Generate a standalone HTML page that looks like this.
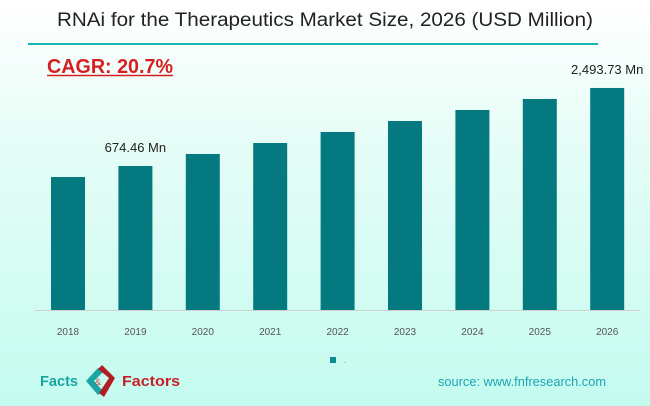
<!DOCTYPE html>
<html><head><meta charset="utf-8"><style>
html,body{margin:0;padding:0}
body{width:650px;height:406px;overflow:hidden;background:linear-gradient(to bottom,#ffffff 0%,#e6fdf7 35%,#c4fbef 100%);font-family:"Liberation Sans",sans-serif;position:relative}
</style></head><body>
<svg width="650" height="406" style="position:absolute;left:0;top:0">
<text x="325" y="26" text-anchor="middle" font-size="19" fill="#222" textLength="536" lengthAdjust="spacingAndGlyphs">RNAi for the Therapeutics Market Size, 2026 (USD Million)</text>
<line x1="28" y1="44" x2="598" y2="44" stroke="#1bb5b5" stroke-width="2"/>
<text x="47" y="73" font-size="20" font-weight="bold" fill="#d62020" textLength="126" lengthAdjust="spacingAndGlyphs">CAGR: 20.7%</text>
<line x1="47" y1="75.5" x2="173" y2="75.5" stroke="#d62020" stroke-width="1.5"/>
<g id="bars"></g>
<line x1="35" y1="310.5" x2="640" y2="310.5" stroke="#cfcfcf" stroke-width="1"/>
<rect x="330" y="357" width="6" height="6" fill="#138a8f"/>
<text x="344" y="363" font-size="6" fill="#555">.</text>
<text x="40" y="386" font-size="15" font-weight="bold" fill="#1aa5a5" textLength="38" lengthAdjust="spacingAndGlyphs">Facts</text>
<g>
<path d="M98 368 L86 381 L98 395 L103 391 L94 381 L103 372Z" fill="#1aa5a5"/>
<path d="M102 365 L115 378 L104 397 L99 393 L109 378 L98 369Z" fill="#b01e22"/>
<text x="95" y="385" font-size="9" fill="#d04040">&amp;</text>
</g>
<text x="122" y="386" font-size="15" font-weight="bold" fill="#c8202a" textLength="58" lengthAdjust="spacingAndGlyphs">Factors</text>
<text x="606" y="386" text-anchor="end" font-size="12.5" fill="#1aa5b5" textLength="168" lengthAdjust="spacingAndGlyphs">source: www.fnfresearch.com</text>
</svg>
<script>
const years=["2018","2019","2020","2021","2022","2023","2024","2025","2026"];
const values=[417,674.46,954,1210,1467,1723,1980,2237,2493.73];
const labels={1:"674.46 Mn",8:"2,493.73 Mn"};
const base=310,x0=68,step=67.4,bw=34;
function xPos(i){return x0+i*step;}
function yPos(v){return base-(115.1+v*0.04288);}
const g=document.getElementById('bars');
const ns="http://www.w3.org/2000/svg";
years.forEach((yr,i)=>{
  const r=document.createElementNS(ns,'rect');
  const y=yPos(values[i]);
  r.setAttribute('x',xPos(i)-bw/2);r.setAttribute('y',y);
  r.setAttribute('width',bw);r.setAttribute('height',base-y);
  r.setAttribute('fill','#047a80');
  
  
  g.appendChild(r);
  const t=document.createElementNS(ns,'text');
  t.setAttribute('x',xPos(i));t.setAttribute('y',335);
  t.setAttribute('text-anchor','middle');t.setAttribute('font-size','10');t.setAttribute('fill','#555');
  t.textContent=yr;
  
  
  g.appendChild(t);
  if(labels[i]){
    const l=document.createElementNS(ns,'text');
    l.setAttribute('x',xPos(i));l.setAttribute('y',y-14);
    l.setAttribute('text-anchor','middle');l.setAttribute('font-size','13');l.setAttribute('fill','#222');
    l.textContent=labels[i];
    
    
    g.appendChild(l);
  }
});
</script>
</body></html>
